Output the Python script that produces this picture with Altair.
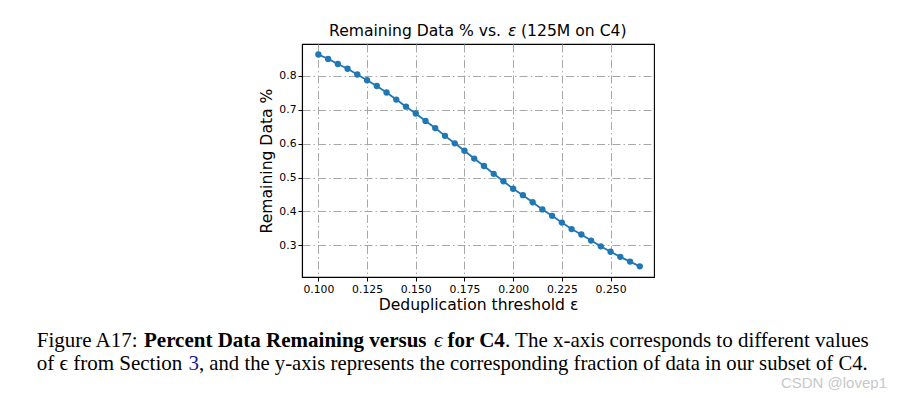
import altair as alt
import pandas as pd

# --- data ---
epsilon = [0.100, 0.105, 0.110, 0.115, 0.120, 0.125, 0.130, 0.135, 0.140, 0.145,
           0.150, 0.155, 0.160, 0.165, 0.170, 0.175, 0.180, 0.185, 0.190, 0.195,
           0.200, 0.205, 0.210, 0.215, 0.220, 0.225, 0.230, 0.235, 0.240, 0.245,
           0.250, 0.255, 0.260, 0.265]
remaining = [0.863, 0.850, 0.835, 0.821, 0.804, 0.787, 0.770, 0.751, 0.730, 0.709,
             0.689, 0.667, 0.646, 0.623, 0.601, 0.579, 0.556, 0.534, 0.511, 0.489,
             0.467, 0.448, 0.427, 0.406, 0.387, 0.367, 0.348, 0.332, 0.314, 0.297,
             0.281, 0.266, 0.252, 0.238]
x_ticks = [0.100, 0.125, 0.150, 0.175, 0.200, 0.225, 0.250]
y_ticks = [0.3, 0.4, 0.5, 0.6, 0.7, 0.8]

title_parts = ["Remaining Data % vs.", "ε", "(125M on C4)"]
x_title = "Deduplication threshold ε"
y_title = "Remaining Data %"

df = pd.DataFrame({"eps": epsilon, "rem": remaining})

W, H = 352, 233
BLUE = "#1f77b4"
GRID = "#a8a8a8"
DASH = [8, 3, 1.5, 3]
SANS = "DejaVu Sans"
SERIF = "Liberation Serif"
LAB = 15.6

x_enc = alt.X("eps:Q",
              scale=alt.Scale(domain=[0.0916, 0.2723], nice=False, zero=False),
              axis=alt.Axis(values=x_ticks, format=".3f", title=x_title,
                            grid=True, gridColor=GRID, gridDash=DASH, gridWidth=1,
                            domainColor="black", domainWidth=1.1,
                            tickColor="black", tickSize=4, tickWidth=1,
                            labelFont=SANS, labelFontSize=10.8, labelColor="black",
                            labelPadding=2,
                            titleFont=SANS, titleFontSize=LAB, titleFontWeight="normal",
                            titleColor="black", titleX=W / 2, titleY=27,
                            titleBaseline="middle", titleAlign="center"))
y_enc = alt.Y("rem:Q",
              scale=alt.Scale(domain=[0.2065, 0.894], nice=False, zero=False),
              axis=alt.Axis(values=y_ticks, format=".1f", title=y_title,
                            grid=True, gridColor=GRID, gridDash=DASH, gridWidth=1,
                            domainColor="black", domainWidth=1.1,
                            tickColor="black", tickSize=4, tickWidth=1,
                            labelFont=SANS, labelFontSize=10.8, labelColor="black",
                            labelPadding=2,
                            titleFont=SANS, titleFontSize=LAB, titleFontWeight="normal",
                            titleColor="black", titleX=-36, titleY=H / 2,
                            titleAngle=-90, titleBaseline="middle", titleAlign="center"))

base = alt.Chart(df)
line = base.mark_line(color=BLUE, strokeWidth=1.8).encode(x=x_enc, y=y_enc)
pts = base.mark_circle(color=BLUE, opacity=1, size=40).encode(x="eps:Q", y="rem:Q")


def txt(s, px, py, size, font, weight="normal", color="black", align="left",
        baseline="alphabetic", style="normal"):
    # px, py are page pixel positions; plot origin is at page (302, 44)
    return alt.Chart(pd.DataFrame({"t": [s]})).mark_text(
        text=s, font=font, fontSize=size, fontWeight=weight, color=color,
        align=align, baseline=baseline, fontStyle=style
    ).encode(x=alt.value(px - 302), y=alt.value(py - 44))


CAP = 21
layers = [
    line, pts,
    # title: "Remaining Data % vs." | italic ε | "(125M on C4)"
    txt(title_parts[0], 329, 31, LAB, SANS, baseline="middle"),
    txt(title_parts[1], 508, 31, LAB, SANS, baseline="middle", style="italic"),
    txt(title_parts[2], 521, 31, LAB, SANS, baseline="middle"),
    # caption line 1
    txt("Figure A17:", 36.7, 347, CAP, SERIF),
    txt("Percent Data Remaining versus", 144, 347, CAP, SERIF, weight="bold"),
    txt("ϵ", 434, 347, CAP, SERIF, style="italic"),
    txt("for C4", 447.5, 347, CAP, SERIF, weight="bold"),
    txt(". The x-axis corresponds to different values", 505, 347, CAP, SERIF),
    # caption line 2
    txt("of ϵ from Section", 36.7, 370, CAP, SERIF),
    txt("3", 188.5, 370, CAP, SERIF, color="#1c1c8c"),
    txt(", and the y-axis represents the corresponding fraction of data in our subset of C4.",
        199, 370, 20.7, SERIF),
    # watermark
    txt("CSDN @lovep1", 887, 388, 15, "Liberation Sans", color="#c8c8c8", align="right"),
]

chart = alt.layer(*layers).properties(
    width=W, height=H,
    autosize=alt.AutoSizeParams(type="none"),
    padding={"left": 294, "top": 36, "right": 235, "bottom": 113},
    background="white",
).configure_view(stroke="black", strokeWidth=1.1)

chart.save("out.html", embed_options={"renderer": "svg", "actions": False})
